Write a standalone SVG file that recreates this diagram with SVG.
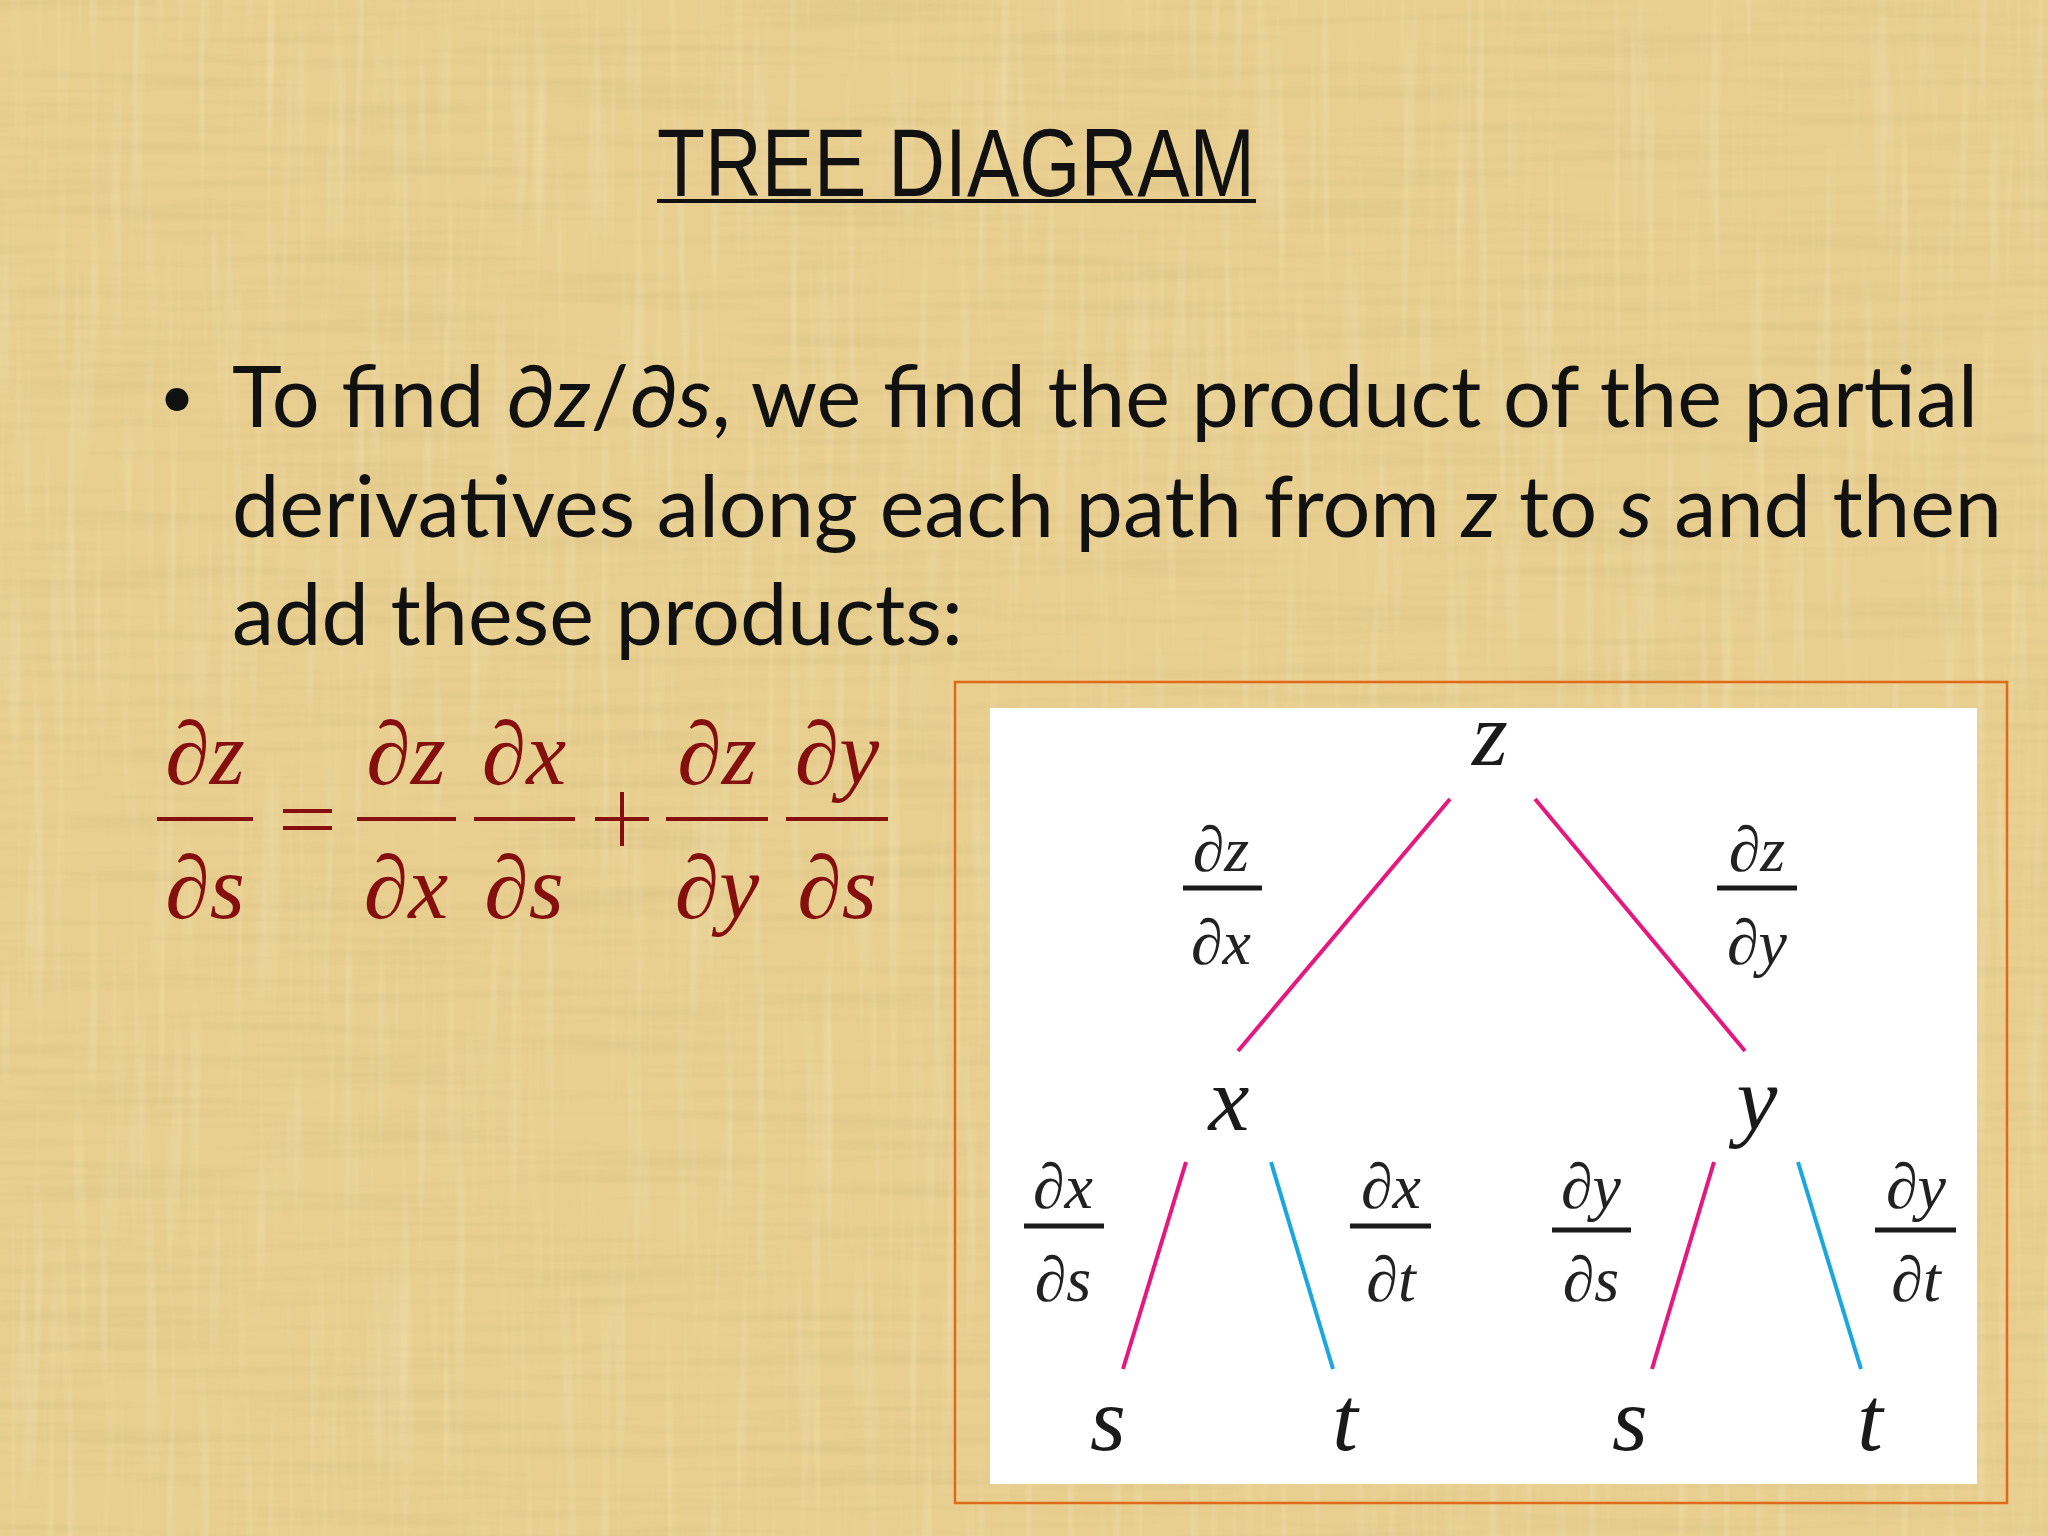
<svg xmlns="http://www.w3.org/2000/svg" width="2048" height="1536" viewBox="0 0 2048 1536">
<style>
.title{font-family:"Liberation Sans",Arial,sans-serif;font-size:96px;fill:#111}
.body{font-family:Lato,"Liberation Sans",Arial,sans-serif;font-size:86px;fill:#111}
.it{font-style:italic}
.eq{font-family:"Liberation Serif","Times New Roman",serif;font-style:italic;font-size:90px;fill:#850f0f;text-anchor:middle}
.eqbar{stroke:#850f0f;stroke-width:4}
.node{font-family:"Liberation Serif","Times New Roman",serif;font-style:italic;font-size:92px;fill:#1a1a1a;text-anchor:middle}
.lab{font-family:"Liberation Serif","Times New Roman",serif;font-style:italic;font-size:64px;fill:#222;text-anchor:middle}
.labbar{stroke:#1a1a1a;stroke-width:5}
.pink{stroke:#e5187f;stroke-width:4;fill:none}
.blue{stroke:#1aa7e0;stroke-width:4;fill:none}
</style>
<defs>
<filter id="texV" x="0" y="0" width="100%" height="100%">
<feTurbulence type="fractalNoise" baseFrequency="0.004 0.09" numOctaves="2" seed="4"/>
<feColorMatrix type="matrix" values="0 0 0 0 0.62  0 0 0 0 0.48  0 0 0 0 0.2  1.6 0 0 0 -0.75"/>
</filter>
<filter id="texH" x="0" y="0" width="100%" height="100%">
<feTurbulence type="fractalNoise" baseFrequency="0.09 0.004" numOctaves="2" seed="9"/>
<feColorMatrix type="matrix" values="0 0 0 0 1  0 0 0 0 0.95  0 0 0 0 0.8  1.6 0 0 0 -0.8"/>
</filter>
</defs>
<rect x="0" y="0" width="2048" height="1536" fill="#e8cf90"/>
<rect x="0" y="0" width="2048" height="1536" filter="url(#texV)" opacity="0.45"/>
<rect x="0" y="0" width="2048" height="1536" filter="url(#texH)" opacity="0.35"/>

<g id="title">
<text class="title" x="657" y="196" textLength="598" lengthAdjust="spacingAndGlyphs">TREE DIAGRAM</text>
<line x1="657" y1="201" x2="1256" y2="201" stroke="#111" stroke-width="4"/>
</g>

<g id="bullet">
<text class="body" x="159" y="418" style="font-size:62px">•</text>
<text class="body" x="232" y="427" textLength="1746" lengthAdjust="spacingAndGlyphs">To find ∂<tspan class="it">z</tspan>/∂<tspan class="it">s</tspan>, we find the product of the partial</text>
<text class="body" x="232" y="537" textLength="1770" lengthAdjust="spacingAndGlyphs">derivatives along each path from <tspan class="it">z</tspan> to <tspan class="it">s</tspan> and then</text>
<text class="body" x="232" y="645" textLength="731" lengthAdjust="spacingAndGlyphs">add these products:</text>
</g>

<g id="equation">
<text class="eq" x="205" y="784">∂z</text>
<line class="eqbar" x1="157" y1="819" x2="253" y2="819"/>
<text class="eq" x="205" y="918">∂s</text>
<line class="eqbar" x1="283" y1="811" x2="332" y2="811"/>
<line class="eqbar" x1="283" y1="828" x2="332" y2="828"/>
<text class="eq" x="406" y="784">∂z</text>
<line class="eqbar" x1="357" y1="819" x2="456" y2="819"/>
<text class="eq" x="406" y="918">∂x</text>
<text class="eq" x="524" y="784">∂x</text>
<line class="eqbar" x1="474" y1="819" x2="575" y2="819"/>
<text class="eq" x="524" y="918">∂s</text>
<line class="eqbar" x1="595" y1="819" x2="649" y2="819"/>
<line class="eqbar" x1="622" y1="792" x2="622" y2="846"/>
<text class="eq" x="717" y="784">∂z</text>
<line class="eqbar" x1="666" y1="819" x2="768" y2="819"/>
<text class="eq" x="717" y="918">∂y</text>
<text class="eq" x="837" y="784">∂y</text>
<line class="eqbar" x1="786" y1="819" x2="888" y2="819"/>
<text class="eq" x="837" y="918">∂s</text>
</g>

<g id="tree-frame">
<rect x="955" y="682" width="1052" height="821" fill="none" stroke="#e06a1a" stroke-width="2.5"/>
<rect x="990" y="708" width="987" height="776" fill="#ffffff"/>
</g>

<g id="connectors">
<line class="pink" x1="1450" y1="799" x2="1238" y2="1051"/>
<line class="pink" x1="1535" y1="799" x2="1745" y2="1051"/>
<line class="pink" x1="1186" y1="1162" x2="1123" y2="1369"/>
<line class="blue" x1="1271" y1="1162" x2="1333" y2="1369"/>
<line class="pink" x1="1714" y1="1162" x2="1652" y2="1369"/>
<line class="blue" x1="1798" y1="1162" x2="1861" y2="1369"/>
</g>

<g id="node-z"><text class="node" x="1490" y="765">z</text></g>
<g id="node-x"><text class="node" x="1229" y="1130">x</text></g>
<g id="node-y"><text class="node" x="1757" y="1130">y</text></g>
<g id="node-s1"><text class="node" x="1108" y="1450">s</text></g>
<g id="node-t1"><text class="node" x="1345" y="1450">t</text></g>
<g id="node-s2"><text class="node" x="1630" y="1450">s</text></g>
<g id="node-t2"><text class="node" x="1870" y="1450">t</text></g>

<g id="label-dzdx">
<text class="lab" x="1221" y="871">∂z</text>
<line class="labbar" x1="1183" y1="888" x2="1262" y2="888"/>
<text class="lab" x="1221" y="964">∂x</text>
</g>
<g id="label-dzdy">
<text class="lab" x="1757" y="871">∂z</text>
<line class="labbar" x1="1717" y1="888" x2="1797" y2="888"/>
<text class="lab" x="1757" y="964">∂y</text>
</g>
<g id="label-dxds">
<text class="lab" x="1063" y="1208">∂x</text>
<line class="labbar" x1="1024" y1="1226" x2="1104" y2="1226"/>
<text class="lab" x="1063" y="1301">∂s</text>
</g>
<g id="label-dxdt">
<text class="lab" x="1391" y="1208">∂x</text>
<line class="labbar" x1="1350" y1="1226" x2="1431" y2="1226"/>
<text class="lab" x="1391" y="1301">∂t</text>
</g>
<g id="label-dyds">
<text class="lab" x="1591" y="1208">∂y</text>
<line class="labbar" x1="1552" y1="1230" x2="1631" y2="1230"/>
<text class="lab" x="1591" y="1301">∂s</text>
</g>
<g id="label-dydt">
<text class="lab" x="1916" y="1208">∂y</text>
<line class="labbar" x1="1875" y1="1230" x2="1956" y2="1230"/>
<text class="lab" x="1916" y="1301">∂t</text>
</g>
</svg>
